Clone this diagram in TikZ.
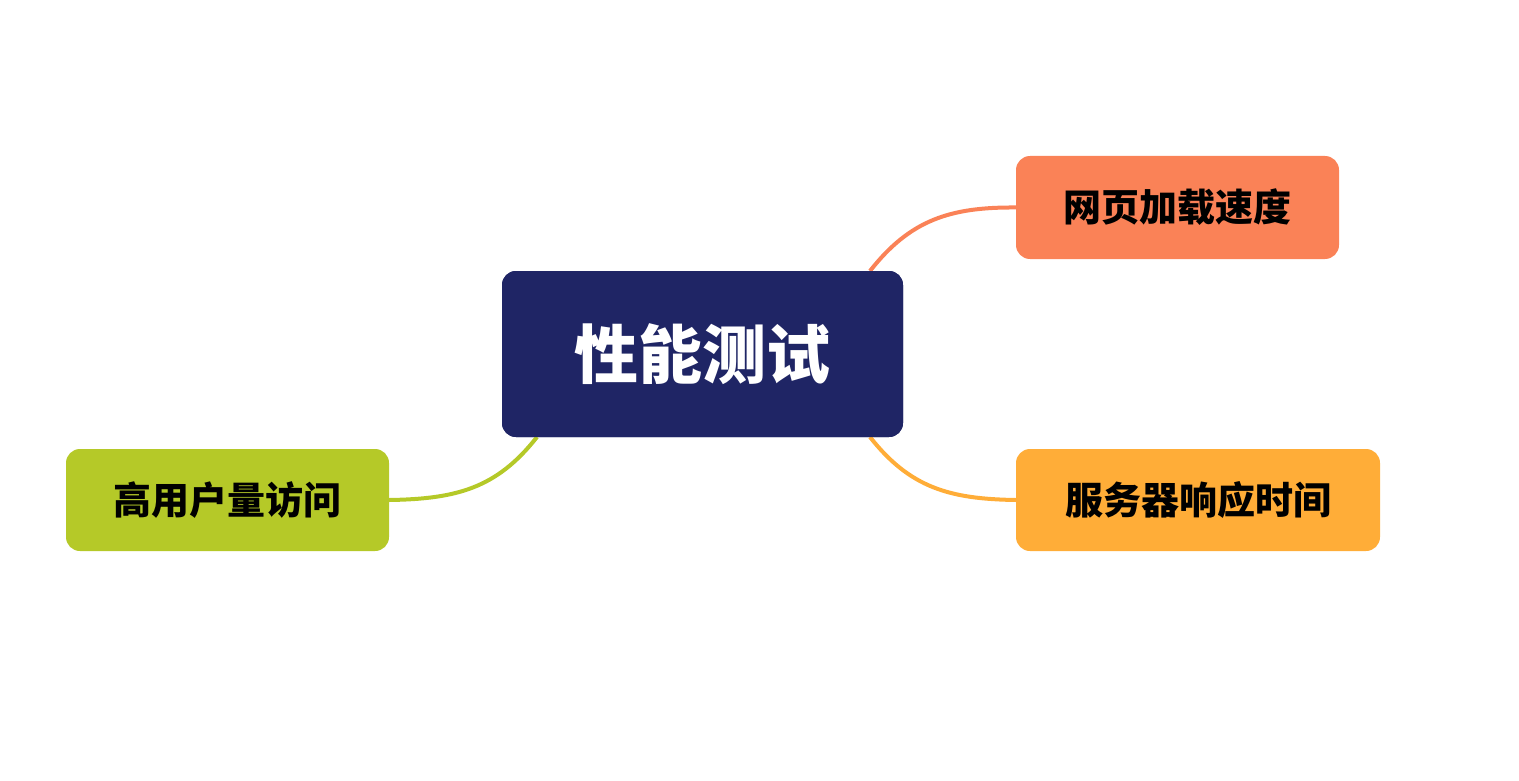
\documentclass[tikz,border=0pt]{standalone}
\usepackage{fontspec}
\newfontfamily\cjk{Noto Sans CJK SC}
\begin{document}
\begin{tikzpicture}[x=1pt,y=-1pt,
  box/.style={rounded corners=14pt,inner sep=0pt,font=\cjk\bfseries\fontsize{38}{44}\selectfont},
  link/.style={line width=4pt}]
\useasboundingbox (0,0) rectangle (1519,781);
\definecolor{cnavy}{HTML}{1F2565}
\definecolor{corange}{HTML}{FA8257}
\definecolor{camber}{HTML}{FFAD38}
\definecolor{clime}{HTML}{B5C928}
\node[box,fill=cnavy,text=white,minimum width=401pt,minimum height=166pt,font=\cjk\bfseries\fontsize{64}{70}\selectfont] (c) at (702.5,354) {性能测试};
\node[box,fill=corange,minimum width=323pt,minimum height=103pt] (a) at (1177.5,207.5) {网页加载速度};
\node[box,fill=camber,minimum width=364pt,minimum height=102pt] (b) at (1198,500) {服务器响应时间};
\node[box,fill=clime,minimum width=323pt,minimum height=102pt] (d) at (227.5,500) {高用户量访问};
\coordinate (ca) at (870,271);
\coordinate (cb) at (870,437);
\coordinate (cd) at (537,437);
\begin{scope}[on background layer/.try]
\end{scope}
\draw[link,corange] (ca) .. controls (910,220) and (950,207) .. (a.west);
\draw[link,camber] (cb) .. controls (910,488) and (950,499) .. (b.west);
\draw[link,clime] (cd) .. controls (497,488) and (457,499) .. (d.east);
\node[box,fill=cnavy,text=white,minimum width=401pt,minimum height=166pt,font=\cjk\bfseries\fontsize{64}{70}\selectfont] at (c) {性能测试};
\end{tikzpicture}
\end{document}
